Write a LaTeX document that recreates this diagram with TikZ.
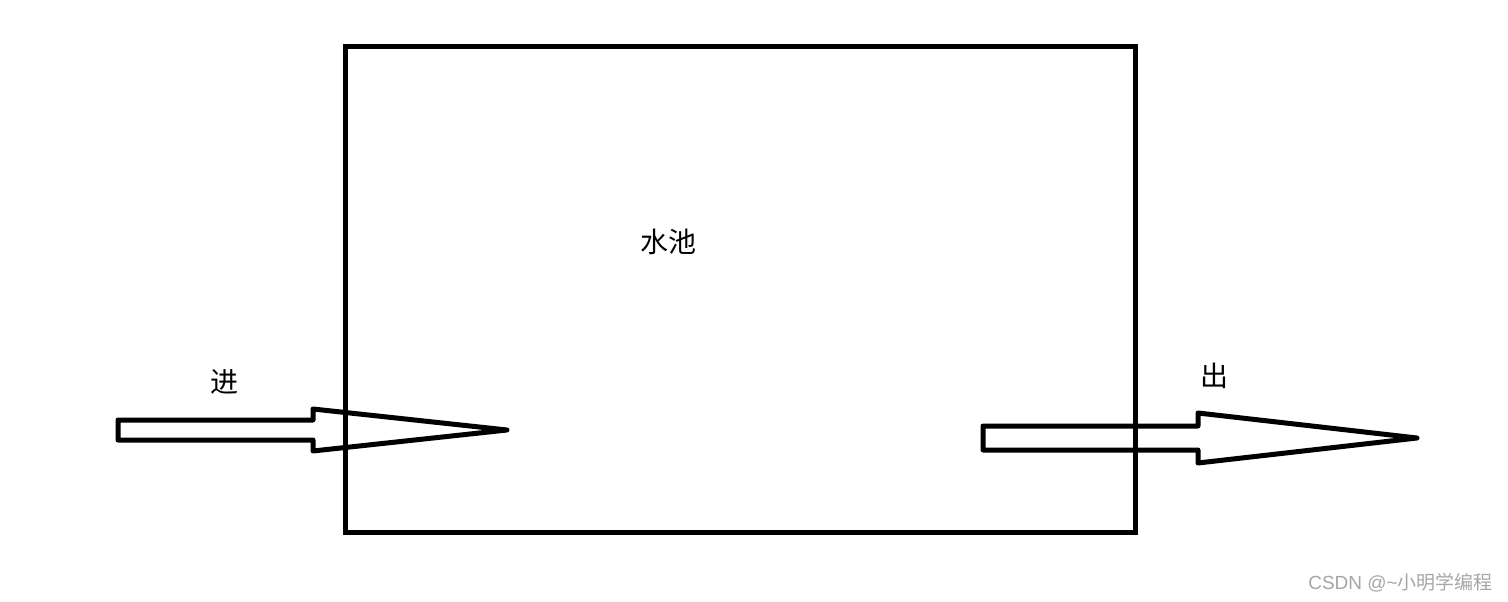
\documentclass[tikz,border=0pt]{standalone}
\usepackage{fontspec}
\setmainfont{Liberation Sans}
\newfontfamily\cjk{Noto Sans CJK SC}
\usetikzlibrary{positioning}

\begin{document}
\begin{tikzpicture}[x=1pt,y=-1pt,
            outline/.style={draw=black,line width=5pt},
            label/.style={font=\cjk\fontsize{28}{30}\selectfont,inner sep=0pt},
            watermark/.style={font=\fontsize{19}{21}\selectfont,text=black!35,inner sep=0pt}]
    \useasboundingbox (0,0) rectangle (1508,602);
    \fill[white] (0,0) rectangle (1508,602);

    % pool
    \draw[outline] (345,47) rectangle (1135,532);
    \node[label] (pool) at (668,242) {水池};

    % inlet arrow
    \draw[outline,line join=round] (118,420) -- (313,420) -- (313,409) -- (507,430)
        -- (313,451) -- (313,440) -- (118,440) -- cycle;
    \node[label] (inlet) at (224,382) {进};

    % outlet arrow
    \draw[outline,line join=round] (983,426) -- (1198,426) -- (1198,413) -- (1417,438)
        -- (1198,463) -- (1198,450) -- (983,450) -- cycle;
    \node[label] (outlet) at (1214,376) {出};

    \node[watermark,anchor=east] (wm) at (1493,583) {CSDN @\textasciitilde{}{\cjk 小明学编程}};
\end{tikzpicture}
\end{document}
